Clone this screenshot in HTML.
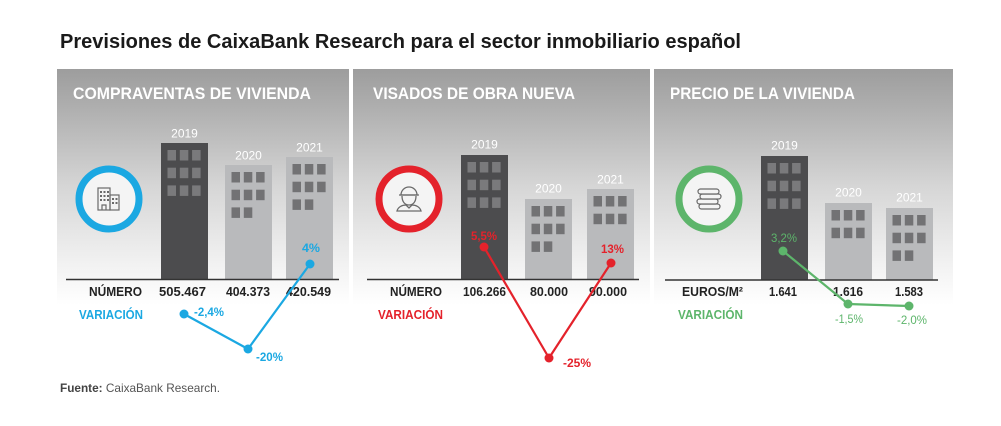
<!DOCTYPE html>
<html><head><meta charset="utf-8">
<style>
html,body{margin:0;padding:0;background:#fff;}
svg{display:block;}
text{font-family:"Liberation Sans",Arial,sans-serif;}
</style></head>
<body>
<svg width="1001" height="426" viewBox="0 0 1001 426" xmlns="http://www.w3.org/2000/svg">
<defs>
<linearGradient id="bg" gradientUnits="userSpaceOnUse" x1="0" y1="69" x2="0" y2="305">
<stop offset="0" stop-color="#9d9d9d"/>
<stop offset="0.15" stop-color="#adadad"/>
<stop offset="0.5" stop-color="#d6d6d6"/>
<stop offset="0.82" stop-color="#f1f1f1"/>
<stop offset="1" stop-color="#ffffff"/>
</linearGradient>
<g id="wd3"><rect x="6.5" y="0" width="8.5" height="10.5"/><rect x="18.8" y="0" width="8.5" height="10.5"/><rect x="31.1" y="0" width="8.5" height="10.5"/></g>
<g id="wd2"><rect x="6.5" y="0" width="8.5" height="10.5"/><rect x="18.8" y="0" width="8.5" height="10.5"/></g>
</defs>
<rect width="1001" height="426" fill="#fff"/>
<text x="60" y="48" font-size="20" font-weight="bold" fill="#1a1a1a" textLength="681" lengthAdjust="spacingAndGlyphs">Previsiones de CaixaBank Research para el sector inmobiliario español</text>

<!-- panels -->
<rect x="57" y="69" width="292" height="236" fill="url(#bg)"/>
<rect x="353" y="69" width="297" height="236" fill="url(#bg)"/>
<rect x="654" y="69" width="299" height="236" fill="url(#bg)"/>

<text x="73" y="99" font-size="17" font-weight="bold" fill="#fff" textLength="238" lengthAdjust="spacingAndGlyphs">COMPRAVENTAS DE  VIVIENDA</text>
<text x="373" y="99" font-size="17" font-weight="bold" fill="#fff" textLength="202" lengthAdjust="spacingAndGlyphs">VISADOS DE OBRA NUEVA</text>
<text x="670" y="99" font-size="17" font-weight="bold" fill="#fff" textLength="185" lengthAdjust="spacingAndGlyphs">PRECIO DE LA VIVIENDA</text>

<!-- circles -->
<circle cx="109" cy="199" r="30" fill="#f4f4f4" stroke="#1ba8e2" stroke-width="7"/>
<circle cx="409" cy="199" r="30" fill="#f4f4f4" stroke="#e4222b" stroke-width="7"/>
<circle cx="709" cy="199" r="30" fill="#f4f4f4" stroke="#5db56b" stroke-width="7"/>

<!-- building icon -->
<g fill="none" stroke="#6a6a6a" stroke-width="1.2">
<rect x="98" y="188" width="12" height="22"/>
<rect x="110" y="195" width="9" height="15"/>
<path d="M102 210v-5h4v5"/>
</g>
<g fill="#6a6a6a">
<rect x="100" y="191" width="2" height="2"/><rect x="103.5" y="191" width="2" height="2"/><rect x="107" y="191" width="2" height="2"/>
<rect x="100" y="195" width="2" height="2"/><rect x="103.5" y="195" width="2" height="2"/><rect x="107" y="195" width="2" height="2"/>
<rect x="100" y="199" width="2" height="2"/><rect x="103.5" y="199" width="2" height="2"/><rect x="107" y="199" width="2" height="2"/>
<rect x="112" y="198" width="2" height="2"/><rect x="115.5" y="198" width="2" height="2"/>
<rect x="112" y="202" width="2" height="2"/><rect x="115.5" y="202" width="2" height="2"/>
</g>
<!-- worker icon -->
<g fill="none" stroke="#6a6a6a" stroke-width="1.3">
<path d="M401 195a8 8 0 0 1 16 0z"/>
<path d="M399 195h20"/>
<path d="M402 196c0 6 3 9 7 9s7-3 7-9"/>
<path d="M397 211c1-4 5-6 9-6l3 3l3-3c4 0 8 2 9 6z"/>
</g>
<!-- coins icon -->
<g fill="#f4f4f4" stroke="#6a6a6a" stroke-width="1.2">
<rect x="699" y="204" width="21" height="5" rx="2.5"/>
<rect x="697" y="199" width="21" height="5" rx="2.5"/>
<rect x="700" y="194" width="21" height="5" rx="2.5"/>
<rect x="698" y="189" width="21" height="5" rx="2.5"/>
</g>

<!-- bars panel 1 -->
<rect x="161" y="143" width="47" height="136" fill="#4c4c4e"/>
<g fill="#7a7a7c" transform="translate(161,143)"><use href="#wd3" y="7"/><use href="#wd3" y="24.7"/><use href="#wd3" y="42.4"/></g>
<rect x="225" y="165" width="47" height="114" fill="#b9babc"/>
<g fill="#727274" transform="translate(225,165)"><use href="#wd3" y="7"/><use href="#wd3" y="24.7"/><use href="#wd2" y="42.4"/></g>
<rect x="286" y="157" width="47" height="122" fill="#b9babc"/>
<g fill="#727274" transform="translate(286,157)"><use href="#wd3" y="7"/><use href="#wd3" y="24.7"/><use href="#wd2" y="42.4"/></g>

<!-- bars panel 2 -->
<rect x="461" y="155" width="47" height="124" fill="#4c4c4e"/>
<g fill="#7a7a7c" transform="translate(461,155)"><use href="#wd3" y="7"/><use href="#wd3" y="24.7"/><use href="#wd3" y="42.4"/></g>
<rect x="525" y="199" width="47" height="80" fill="#b9babc"/>
<g fill="#727274" transform="translate(525,199)"><use href="#wd3" y="7"/><use href="#wd3" y="24.7"/><use href="#wd2" y="42.4"/></g>
<rect x="587" y="189" width="47" height="90" fill="#b9babc"/>
<g fill="#727274" transform="translate(587,189)"><use href="#wd3" y="7"/><use href="#wd3" y="24.7"/></g>

<!-- bars panel 3 -->
<rect x="761" y="156" width="47" height="124" fill="#4c4c4e"/>
<g fill="#7a7a7c" transform="translate(761,156)"><use href="#wd3" y="7"/><use href="#wd3" y="24.7"/><use href="#wd3" y="42.4"/></g>
<rect x="825" y="203" width="47" height="77" fill="#b9babc"/>
<g fill="#727274" transform="translate(825,203)"><use href="#wd3" y="7"/><use href="#wd3" y="24.7"/></g>
<rect x="886" y="208" width="47" height="72" fill="#b9babc"/>
<g fill="#727274" transform="translate(886,208)"><use href="#wd3" y="7"/><use href="#wd3" y="24.7"/><use href="#wd2" y="42.4"/></g>

<!-- year labels -->
<g font-size="12" fill="#fff" text-anchor="middle">
<text x="184.5" y="137.5">2019</text><text x="248.5" y="159.5">2020</text><text x="309.5" y="151.5">2021</text>
<text x="484.5" y="148.5">2019</text><text x="548.5" y="192.5">2020</text><text x="610.5" y="183.5">2021</text>
<text x="784.5" y="149.5">2019</text><text x="848.5" y="196.5">2020</text><text x="909.5" y="201.5">2021</text>
</g>

<!-- baselines -->
<g stroke="#333" stroke-width="1.5">
<line x1="66" y1="279.5" x2="339" y2="279.5"/>
<line x1="367" y1="279.5" x2="639" y2="279.5"/>
<line x1="665" y1="280" x2="938" y2="280"/>
</g>

<!-- numbers -->
<g font-size="12.5" font-weight="bold" fill="#222">
<text x="89" y="296" textLength="53" lengthAdjust="spacingAndGlyphs">NÚMERO</text>
<text x="159" y="296" textLength="47" lengthAdjust="spacingAndGlyphs">505.467</text>
<text x="226" y="296" textLength="44" lengthAdjust="spacingAndGlyphs">404.373</text>
<text x="286" y="296" textLength="45" lengthAdjust="spacingAndGlyphs">420.549</text>
<text x="390" y="296" textLength="52" lengthAdjust="spacingAndGlyphs">NÚMERO</text>
<text x="463" y="296" textLength="43" lengthAdjust="spacingAndGlyphs">106.266</text>
<text x="530" y="296" textLength="38" lengthAdjust="spacingAndGlyphs">80.000</text>
<text x="589" y="296" textLength="38" lengthAdjust="spacingAndGlyphs">90.000</text>
<text x="682" y="296" textLength="61" lengthAdjust="spacingAndGlyphs">EUROS/M²</text>
<text x="769" y="296" textLength="28" lengthAdjust="spacingAndGlyphs">1.641</text>
<text x="833" y="296" textLength="30" lengthAdjust="spacingAndGlyphs">1.616</text>
<text x="895" y="296" textLength="28" lengthAdjust="spacingAndGlyphs">1.583</text>
</g>
<g font-size="12.5" font-weight="bold">
<text x="79" y="319" fill="#1ba8e2" textLength="64" lengthAdjust="spacingAndGlyphs">VARIACIÓN</text>
<text x="378" y="319" fill="#e4222b" textLength="65" lengthAdjust="spacingAndGlyphs">VARIACIÓN</text>
<text x="678" y="319" fill="#5db56b" textLength="65" lengthAdjust="spacingAndGlyphs">VARIACIÓN</text>
</g>

<!-- series -->
<g fill="none" stroke-width="2.2" stroke-linejoin="round">
<polyline points="184,314 248,349 310,264" stroke="#1ba8e2"/>
<polyline points="484,247 549,358 611,263" stroke="#e4222b"/>
<polyline points="783,251 848,304 909,306" stroke="#5db56b"/>
</g>
<g fill="#1ba8e2"><circle cx="184" cy="314" r="4.5"/><circle cx="248" cy="349" r="4.5"/><circle cx="310" cy="264" r="4.5"/></g>
<g fill="#e4222b"><circle cx="484" cy="247" r="4.5"/><circle cx="549" cy="358" r="4.5"/><circle cx="611" cy="263" r="4.5"/></g>
<g fill="#5db56b"><circle cx="783" cy="251" r="4.5"/><circle cx="848" cy="304" r="4.5"/><circle cx="909" cy="306" r="4.5"/></g>

<g font-size="12" font-weight="bold" fill="#1ba8e2">
<text x="194" y="316" textLength="30" lengthAdjust="spacingAndGlyphs">-2,4%</text>
<text x="256" y="361" textLength="27" lengthAdjust="spacingAndGlyphs">-20%</text>
<text x="302" y="252" textLength="18" lengthAdjust="spacingAndGlyphs">4%</text>
</g>
<g font-size="12" font-weight="bold" fill="#e4222b">
<text x="471" y="240" textLength="26" lengthAdjust="spacingAndGlyphs">5,5%</text>
<text x="563" y="367" textLength="28" lengthAdjust="spacingAndGlyphs">-25%</text>
<text x="601" y="253" textLength="23" lengthAdjust="spacingAndGlyphs">13%</text>
</g>
<g font-size="12" fill="#5db56b">
<text x="771" y="242" textLength="26" lengthAdjust="spacingAndGlyphs">3,2%</text>
<text x="835" y="323" textLength="28" lengthAdjust="spacingAndGlyphs">-1,5%</text>
<text x="897" y="324" textLength="30" lengthAdjust="spacingAndGlyphs">-2,0%</text>
</g>

<text x="60" y="392" font-size="12" fill="#555" textLength="160" lengthAdjust="spacingAndGlyphs"><tspan font-weight="bold" fill="#444">Fuente:</tspan> CaixaBank Research.</text>
</svg>
</body></html>
